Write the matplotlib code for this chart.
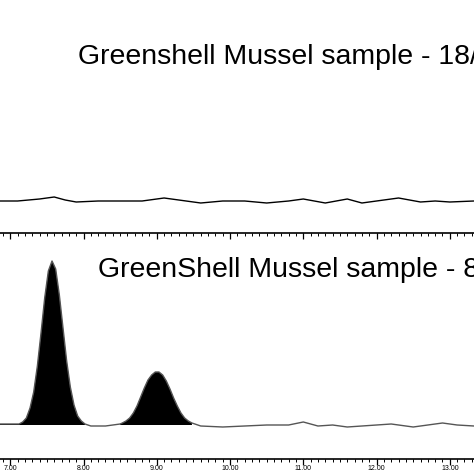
import matplotlib.pyplot as plt
import numpy as np

plt.rcParams['font.family'] = ['Liberation Sans', 'DejaVu Sans']

# upper trace (18/..) : time (min), deviation from baseline (px, up positive)
up_t = [6.86, 7.1, 7.4, 7.6, 7.75, 7.9, 8.2, 8.5, 8.8, 9.1, 9.3, 9.6, 9.9, 10.2, 10.5,
        10.8, 11.0, 11.3, 11.6, 11.8, 12.0, 12.3, 12.6, 12.8, 13.0, 13.33]
up_v = [0, 0, 2, 4, 1, -1, 0, 0, 0, 3, 1, -2, 0, 0, -2, 0, 2, -2, 2, -2, 0, 3, -1, 0, -1, 0]

# lower trace (8..) : time (min), signal (px above baseline)
lo_t = [6.86, 7.05, 7.12, 7.17, 7.22, 7.27, 7.32, 7.37, 7.42, 7.47, 7.52, 7.57, 7.62,
        7.67, 7.72, 7.77, 7.82, 7.87, 7.92, 7.97, 8.02, 8.1, 8.3, 8.50, 8.53, 8.58,
        8.63, 8.68, 8.73, 8.78, 8.83, 8.88, 8.93, 8.98, 9.03, 9.08, 9.13, 9.18, 9.23,
        9.28, 9.33, 9.38, 9.43, 9.48, 9.6, 9.9, 10.2, 10.5, 10.8, 11.0, 11.2, 11.4,
        11.6, 11.8, 12.0, 12.2, 12.5, 12.7, 12.9, 13.1, 13.33]
lo_v = [1, 1, 1, 3, 7, 17, 33, 59, 92, 127, 154, 164, 156, 130, 97, 64, 38, 20, 9, 4, 1,
        -1, -1, 1, 2, 4, 7, 12, 19, 28, 37, 45, 50, 53, 53, 50, 44, 36, 27, 19, 12, 7,
        4, 2, -1, -2, -1, 0, 0, 3, -1, 0, -2, -1, 0, 1, -2, 0, 2, 0, -1]

major = [7, 8, 9, 10, 11, 12, 13]
labels = ["7.00", "8.00", "9.00", "10.00", "11.00", "12.00", "13.00"]

fig = plt.figure(figsize=(4.74, 4.74), dpi=100)
ax = fig.add_axes([0, 0, 1, 1])
ax.set_xlim(6.86, 13.33)
ax.set_ylim(474, 0)
ax.axis("off")

# upper trace
ax.plot(up_t, 201 - np.array(up_v), color="black", lw=1)
ax.text(7.92, 57, "Greenshell Mussel sample - 18/", fontsize=20.5, va="center", clip_on=False)

# upper axis
ax.axhline(233, color="black", lw=1.2)
minor = np.arange(6.9, 13.35, 0.1)
ax.vlines(minor, 233, 236, color="black", lw=0.7)
ax.vlines(major, 233, 239, color="black", lw=0.9)

# lower trace
lo = 425 - np.array(lo_v)
ax.fill_between(lo_t, 425, lo, where=np.array(lo_v) > 0, color="black", lw=0)
ax.plot(lo_t, lo, color="#555555", lw=1)
ax.text(8.2, 270, "GreenShell Mussel sample - 8", fontsize=20.5, va="center")

# bottom axis
ax.axhline(459, color="black", lw=1.2)
ax.vlines(minor, 459, 462, color="black", lw=0.7)
ax.vlines(major, 459, 465, color="black", lw=0.9)
for m, lab in zip(major, labels):
    ax.text(m, 469, lab, fontsize=5, ha="center", va="center")

fig.savefig("out.png", dpi=100)
